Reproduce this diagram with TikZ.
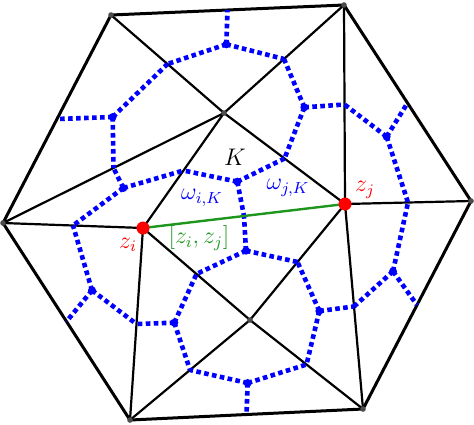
\documentclass[tikz,border=0pt]{standalone}
\usetikzlibrary{calc}
\definecolor{segc}{RGB}{30,150,30}
\begin{document}
\begin{tikzpicture}[x=0.5pt,y=-0.5pt,
 mesh/.style={line width=1.1pt,black},
 hull/.style={line width=1.5pt,black},
 dual/.style={blue,line width=2.3pt,dash pattern=on 2.3pt off 1.7pt},
 bary/.style={circle,fill=blue,inner sep=0pt,minimum size=4pt},
 vtx/.style={circle,fill=black!70,inner sep=0pt,minimum size=2.8pt},
 redpt/.style={circle,fill=red,inner sep=0pt,minimum size=6.5pt},
 seg/.style={segc,line width=1.2pt},
 lab/.style={inner sep=0pt,font=\large}]
\useasboundingbox (0,0) rectangle (474,424);
% vertices
\coordinate (A) at (111,15);
\coordinate (B) at (344,5);
\coordinate (C) at (471,201);
\coordinate (D) at (363,409);
\coordinate (E) at (130,420);
\coordinate (F) at (3,223);
\coordinate (G) at (224,113);
\coordinate (I) at (143,228);
\coordinate (J) at (345,204);
\coordinate (H) at (250,320);
% mesh edges
\draw[hull] (A) -- (B) -- (C) -- (D) -- (E) -- (F) -- cycle;
\foreach \p/\q in {A/G,B/G,F/G,G/I,G/J,F/I,I/E,I/H,H/E,H/D,H/J,J/D,J/C,J/B}
  \draw[mesh] (\p) -- (\q);
% dual (barycentric) lines
\foreach \a/\b/\c in {A/B/G,A/G/F,F/G/I,G/I/J,G/J/B,B/J/C,C/J/D,J/H/D,I/J/H,I/H/E,H/E/D,F/I/E}{
  \coordinate (b\a\b\c) at (barycentric cs:\a=1,\b=1,\c=1);
  \coordinate (m\a\b) at ($(\a)!0.5!(\b)$);
  \coordinate (m\b\c) at ($(\b)!0.5!(\c)$);
  \coordinate (m\a\c) at ($(\a)!0.5!(\c)$);
  \draw[dual] (b\a\b\c) -- (m\a\b);
  \draw[dual] (b\a\b\c) -- (m\b\c);
  \draw[dual] (b\a\b\c) -- (m\a\c);
  \node[bary] (n\a\b\c) at (b\a\b\c) {};
}
% segment [z_i,z_j]
\draw[seg] (I) -- (J);
% vertex dots
\foreach \v in {A,B,C,D,E,F,G,H}
  \node[vtx] (d\v) at (\v) {};
\node[redpt] (zi) at (I) {};
\node[redpt] (zj) at (J) {};
% labels
\node[lab] (lK) at (235,157) {$K$};
\node[lab,text=blue] (lwi) at (202,198) {$\omega_{i,K}$};
\node[lab,text=blue] (lwj) at (288,188) {$\omega_{j,K}$};
\node[lab,text=red] (lzi) at (128,245) {$z_i$};
\node[lab,text=red] (lzj) at (365,190) {$z_j$};
\node[lab,text=segc] (lseg) at (199,238) {$[z_i,z_j]$};
\end{tikzpicture}
\end{document}
